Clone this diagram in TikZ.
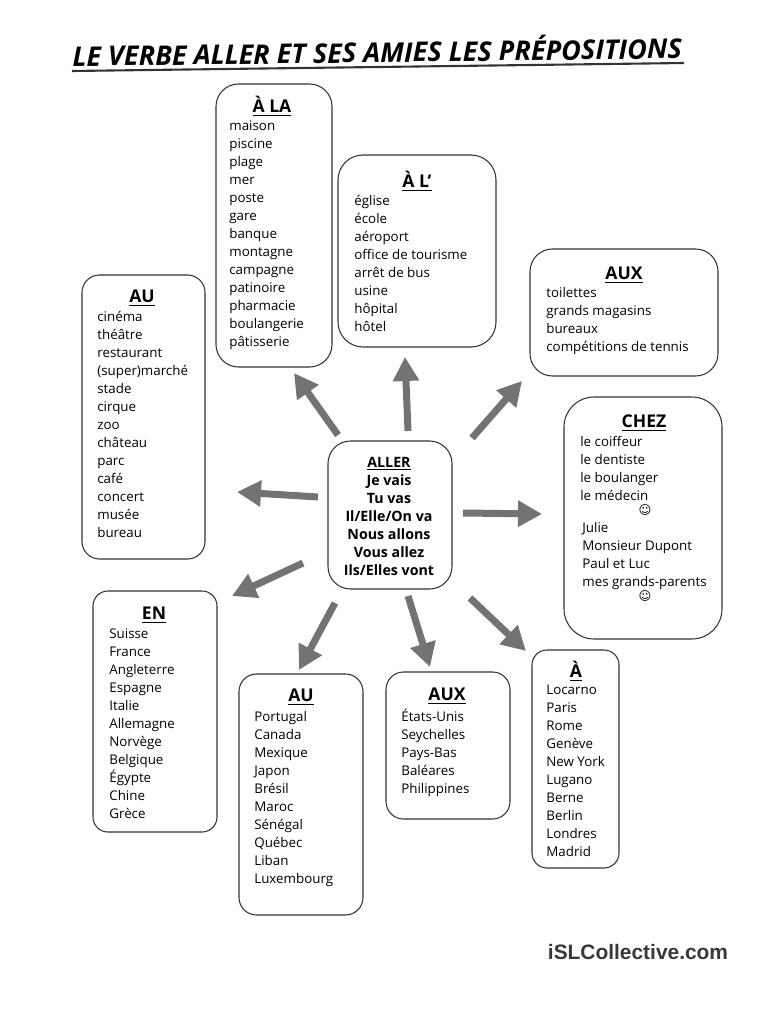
\documentclass[tikz,border=0pt]{standalone}
\usepackage{fontspec}
\usepackage{tikz}
\usetikzlibrary{arrows.meta}
\setmainfont{Open Sans}
\newfontfamily\smileyfont{DejaVu Sans}
\newfontfamily\footfont{Liberation Sans}
\tikzset{
  motbox/.style={draw=black!80, line width=0.6pt, fill=white, rounded corners=#1, inner sep=0pt},
  motbox/.default=0.4cm,
  titre/.style={font=\fontsize{10}{11}\selectfont\bfseries, inner sep=0pt},
  liste/.style={anchor=north west, align=left, inner sep=0pt, font=\fontsize{7.6}{10.24}\selectfont},
  smiley/.style={font=\fontsize{7}{8}\smileyfont, inner sep=0pt},
  fleche/.style={draw=black!55, line width=0.14cm, -{Triangle[length=0.48cm,width=0.5cm]}},
}
\begin{document}
\begin{tikzpicture}[x=0.02cm,y=-0.02cm]
    \useasboundingbox (0,0) rectangle (768,1024);

    % title
    \node[inner sep=0pt, rotate=0.75, font=\fontsize{15.4}{17}\selectfont\itshape\bfseries] (title) at (377,50) {LE VERBE ALLER ET SES AMIES LES PRÉPOSITIONS};
    \coordinate (ulA) at (72,71);
    \coordinate (ulB) at (684,63);
    \draw[line width=1.2pt, black!80] (ulA) -- (ulB);

    % boxes
    \draw[motbox=0.45cm] (216,84) rectangle (332,367);
    \draw[motbox=0.5cm] (338,155) rectangle (496,347);
    \draw[motbox=0.45cm] (530,249) rectangle (718,376);
    \draw[motbox=0.6cm] (564,397) rectangle (722,639);
    \draw[motbox=0.35cm] (82,275) rectangle (205,559);
    \draw[motbox=0.45cm] (328,441) rectangle (452,589);
    \draw[motbox=0.3cm] (93,591) rectangle (217,832);
    \draw[motbox=0.35cm] (239,674) rectangle (363,915);
    \draw[motbox=0.35cm] (386,672) rectangle (510,819);
    \draw[motbox=0.3cm] (532,650) rectangle (619,868);

    % titles of the boxes
    \node[titre] (tala) at (272,106) {\underline{À LA}};
    \node[titre] (tal) at (417,181) {\underline{À L'}};
    \node[titre] (taux) at (624,275) {\underline{AUX}};
    \node[titre] (tchez) at (644,423) {\underline{CHEZ}};
    \node[titre] (tau) at (142,298) {\underline{AU}};
    \node[titre] (ten) at (154,615) {\underline{EN}};
    \node[titre] (tauB) at (301,697) {\underline{AU}};
    \node[titre] (tauxB) at (447,696) {\underline{AUX}};
    \node[titre] (ta) at (576,671) {\underline{À}};

    % word lists
    \node[liste] (ala) at (229,120) {maison\\piscine\\plage\\mer\\poste\\gare\\banque\\montagne\\campagne\\patinoire\\pharmacie\\boulangerie\\pâtisserie};
    \node[liste] (al) at (354,195) {église\\école\\aéroport\\office de tourisme\\arrêt de bus\\usine\\hôpital\\hôtel};
    \node[liste] (aux) at (546,287) {toilettes\\grands magasins\\bureaux\\compétitions de tennis};
    \node[liste] (chezA) at (580,436) {le coiffeur\\le dentiste\\le boulanger\\le médecin};
    \node[smiley] (smA) at (645,510) {☺};
    \node[liste] (chezB) at (582,522) {Julie\\Monsieur Dupont\\Paul et Luc\\mes grands-parents};
    \node[smiley] (smB) at (645,596) {☺};
    \node[liste] (au) at (97,311) {cinéma\\théâtre\\restaurant\\(super)marché\\stade\\cirque\\zoo\\château\\parc\\café\\concert\\musée\\bureau};
    \node[liste] (en) at (109,628) {Suisse\\France\\Angleterre\\Espagne\\Italie\\Allemagne\\Norvège\\Belgique\\Égypte\\Chine\\Grèce};
    \node[liste] (auB) at (254,711) {Portugal\\Canada\\Mexique\\Japon\\Brésil\\Maroc\\Sénégal\\Québec\\Liban\\Luxembourg};
    \node[liste] (auxB) at (401,709) {États-Unis\\Seychelles\\Pays-Bas\\Baléares\\Philippines};
    \node[liste] (a) at (546,685) {Locarno\\Paris\\Rome\\Genève\\New York\\Lugano\\Berne\\Berlin\\Londres\\Madrid};

    % centre
    \node[inner sep=0pt, align=center, font=\fontsize{8.1}{10.24}\selectfont\bfseries] (aller) at (389,516) {\underline{ALLER}\\Je vais\\Tu vas\\Il/Elle/On va\\Nous allons\\Vous allez\\Ils/Elles vont};

    % arrows
    \coordinate (d1) at (338,435);
    \coordinate (f1) at (294,373);
    \coordinate (d2) at (408,431);
    \coordinate (f2) at (405,357);
    \coordinate (d3) at (472,438);
    \coordinate (f3) at (522,381);
    \coordinate (d4) at (463,513);
    \coordinate (f4) at (542,514);
    \coordinate (d5) at (470,598);
    \coordinate (f5) at (526,651);
    \coordinate (d6) at (408,596);
    \coordinate (f6) at (430,667);
    \coordinate (d7) at (335,603);
    \coordinate (f7) at (299,670);
    \coordinate (d8) at (303,563);
    \coordinate (f8) at (232,596);
    \coordinate (d9) at (318,497);
    \coordinate (f9) at (237,492);
    \foreach \i in {1,...,9} {
        \draw[fleche] (d\i) -- (f\i);
    }

    % footer
    \node[inner sep=0pt, text=black!78, font=\fontsize{11.9}{13}\footfont\bfseries] (site) at (638,952) {iSLCollective.com};
\end{tikzpicture}
\end{document}
